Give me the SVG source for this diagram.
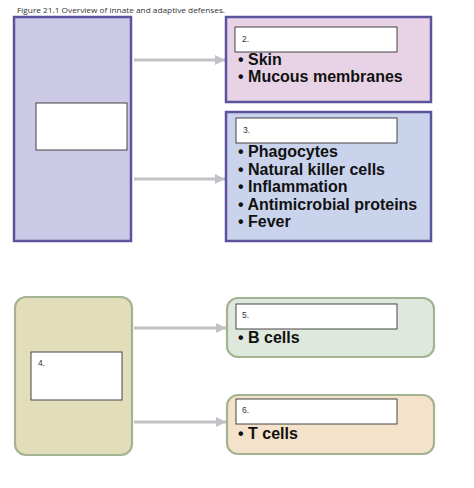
<svg xmlns="http://www.w3.org/2000/svg" width="474" height="488" viewBox="0 0 474 488">
<defs>
<marker id="ah" markerUnits="userSpaceOnUse" markerWidth="12" markerHeight="12" refX="10" refY="6" orient="auto">
<path d="M0,1 L10,6 L0,11 Z" fill="#c2c2c6"/>
</marker>
</defs>
<style>
.inn{stroke:#5b549c;stroke-width:2.5}
.adp{stroke:#a4b391;stroke-width:2.2}
.wb{fill:#fff;stroke:#444;stroke-width:1}
.lbl{font-family:"Liberation Sans",Arial,sans-serif;font-size:8.5px;fill:#333}
.bl{font-family:"Liberation Sans",Arial,sans-serif;font-size:16px;font-weight:bold;fill:#111}
.ttl{font-family:"Open Sans","Liberation Sans",sans-serif;font-size:7.5px;fill:#333}
.con{stroke:#c2c2c6;stroke-width:3;fill:none}
</style>
<rect width="474" height="488" fill="#fff"/>
<text class="ttl" x="17" y="13" textLength="208" lengthAdjust="spacingAndGlyphs">Figure 21.1  Overview of innate and adaptive defenses.</text>
<g id="connectors">
<line class="con" x1="134" y1="60" x2="225" y2="60" marker-end="url(#ah)"/>
<line class="con" x1="134" y1="179" x2="225" y2="179" marker-end="url(#ah)"/>
<line class="con" x1="134" y1="328" x2="226" y2="328" marker-end="url(#ah)"/>
<line class="con" x1="134" y1="422" x2="226" y2="422" marker-end="url(#ah)"/>
</g>
<g id="node1">
<rect class="inn" x="14" y="17" width="117" height="224" fill="#cbc9e6"/>
<rect class="wb" x="36" y="103" width="91" height="47"/>
</g>
<g id="node2">
<rect class="inn" x="226" y="17" width="205" height="85" fill="#e8d3e6"/>
<rect class="wb" x="235" y="27" width="162" height="25"/>
<text class="lbl" x="242" y="42">2.</text>
<text class="bl" x="238" y="65">• Skin</text>
<text class="bl" x="238" y="82">• Mucous membranes</text>
</g>
<g id="node3">
<rect class="inn" x="226" y="112" width="205" height="129" fill="#c9d3ec"/>
<rect class="wb" x="236" y="118" width="161" height="25"/>
<text class="lbl" x="243" y="133">3.</text>
<text class="bl" x="238" y="157">• Phagocytes</text>
<text class="bl" x="238" y="174.5">• Natural killer cells</text>
<text class="bl" x="238" y="192">• Inflammation</text>
<text class="bl" x="238" y="209.5">• Antimicrobial proteins</text>
<text class="bl" x="238" y="227">• Fever</text>
</g>
<g id="node4">
<rect class="adp" x="15" y="297" width="117" height="158" rx="11" fill="#e3deba"/>
<rect class="wb" x="31" y="352" width="91" height="48"/>
<text class="lbl" x="38" y="366">4.</text>
</g>
<g id="node5">
<rect class="adp" x="227" y="298" width="207" height="59" rx="11" fill="#dfe8dc"/>
<rect class="wb" x="236" y="304" width="161" height="25"/>
<text class="lbl" x="242" y="318">5.</text>
<text class="bl" x="238" y="343">• B cells</text>
</g>
<g id="node6">
<rect class="adp" x="227" y="395" width="207" height="59" rx="11" fill="#f4e2cb"/>
<rect class="wb" x="236" y="399" width="161" height="25"/>
<text class="lbl" x="242" y="413">6.</text>
<text class="bl" x="238" y="439">• T cells</text>
</g>
</svg>
